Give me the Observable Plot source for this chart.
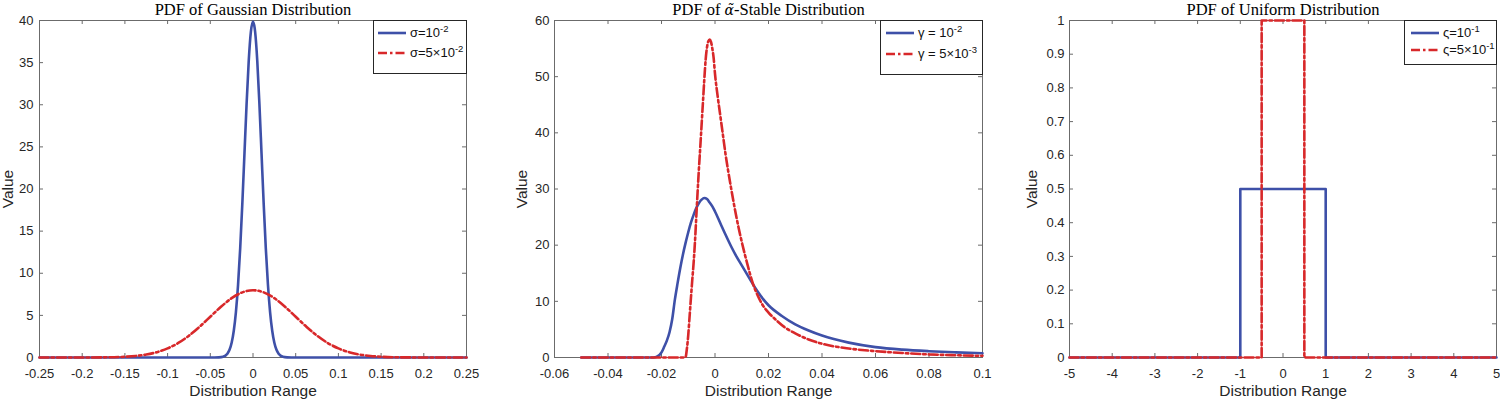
<!DOCTYPE html>
<html>
<head>
<meta charset="utf-8">
<script src="https://cdn.jsdelivr.net/npm/d3@7"></script>
<script src="https://cdn.jsdelivr.net/npm/@observablehq/plot@0.6"></script>
<style>
  body { margin: 0; background: #fff; }
  #fig { position: relative; width: 1500px; height: 401px; overflow: hidden; background: #fff;
         font-family: "Liberation Sans", Arial, Helvetica, sans-serif; }
  .panel { position: absolute; top: 0; }
  .legend { position: absolute; background: #fff; border: 1px solid #262626; box-sizing: border-box; }
  .row { position: absolute; left: 0; height: 16px; display: flex; align-items: center; white-space: nowrap; }
  .row svg { display: block; }
  .row span { font-size: 13px; color: #111; margin-left: 4px; line-height: 16px; }
  .row sup { font-size: 9.5px; vertical-align: 5px; line-height: 0; }
</style>
</head>
<body>
<div id="fig"></div>
<script>
// ---- Gaussian PDFs ----
const gaussNarrowX = [-0.25, -0.05, -0.045, -0.04, -0.035, -0.03, -0.0275, -0.025, -0.0225, -0.02, -0.0175, -0.015, -0.0125, -0.01, -0.0075, -0.005, -0.0025, 0,
  0.0025, 0.005, 0.0075, 0.01, 0.0125, 0.015, 0.0175, 0.02, 0.0225, 0.025, 0.0275, 0.03, 0.035, 0.04, 0.045, 0.05, 0.25];
const gaussNarrowY = [0, 0, 0.0016, 0.0134, 0.0873, 0.443, 0.910, 1.753, 3.18, 5.40, 8.63, 12.95, 18.26, 24.20, 30.11, 35.21, 38.66, 39.89,
  38.66, 35.21, 30.11, 24.20, 18.26, 12.95, 8.63, 5.40, 3.18, 1.753, 0.910, 0.443, 0.0873, 0.0134, 0.0016, 0, 0];
const gaussWideX = [-0.25, -0.225, -0.2, -0.175, -0.15, -0.1375, -0.125, -0.1125, -0.1, -0.0875, -0.075, -0.0625, -0.05, -0.0375, -0.025, -0.0125, 0,
  0.0125, 0.025, 0.0375, 0.05, 0.0625, 0.075, 0.0875, 0.1, 0.1125, 0.125, 0.1375, 0.15, 0.175, 0.2, 0.225, 0.25];
const gaussWideY = [0.00003, 0.0003, 0.00268, 0.01745, 0.0887, 0.182, 0.3506, 0.635, 1.080, 1.726, 2.591, 3.653, 4.839, 6.022, 7.041, 7.733, 7.979,
  7.733, 7.041, 6.022, 4.839, 3.653, 2.591, 1.726, 1.080, 0.635, 0.3506, 0.182, 0.0887, 0.01745, 0.00268, 0.0003, 0.00003];

// ---- alpha-stable PDFs ----
const stableWideX = [-0.05, -0.03, -0.024, -0.022, -0.02, -0.019, -0.018, -0.017, -0.016, -0.015, -0.014, -0.013, -0.012, -0.011, -0.01, -0.009, -0.008, -0.007, -0.006, -0.005, -0.004, -0.003, -0.002, -0.001,
  0, 0.002, 0.004, 0.006, 0.008, 0.01, 0.012, 0.014, 0.016, 0.018, 0.02, 0.025, 0.03, 0.035, 0.04, 0.05, 0.06, 0.07, 0.08, 0.09, 0.1];
const stableWideY = [0, 0, 0, 0.1, 0.9, 1.9, 3.0, 4.5, 6.8, 10.3, 13.2, 15.9, 18.3, 20.4, 22.3, 24.0, 25.4, 26.6, 27.5, 28.1, 28.4, 28.2, 27.6, 26.9,
  26.0, 23.9, 21.8, 19.8, 18.0, 16.4, 14.8, 13.2, 11.7, 10.4, 9.3, 7.4, 5.9, 4.8, 3.9, 2.65, 1.85, 1.4, 1.12, 0.92, 0.77];
const stableNarrowX = [-0.05, -0.03, -0.012, -0.011, -0.0105, -0.01, -0.0095, -0.009, -0.0085, -0.008, -0.0075, -0.007, -0.0065, -0.006, -0.0055, -0.005, -0.0045, -0.004, -0.0035, -0.003, -0.0025, -0.002, -0.0015, -0.001, -0.0005,
  0, 0.001, 0.002, 0.003, 0.004, 0.005, 0.006, 0.008, 0.01, 0.012, 0.014, 0.016, 0.018, 0.02, 0.023, 0.026, 0.03, 0.035, 0.04, 0.05, 0.06, 0.07, 0.08, 0.09, 0.1];
const stableNarrowY = [0, 0, 0, 0.1, 1.6, 4.0, 7.3, 10.6, 13.8, 16.8, 20.5, 25.0, 29.5, 33.7, 37.5, 41.5, 45.5, 49.5, 53.0, 55.2, 56.3, 56.6, 56.2, 55.0, 53.3,
  50.5, 46.5, 43.0, 39.5, 36.0, 33.0, 30.2, 25.0, 20.6, 16.8, 13.4, 11.0, 9.2, 8.0, 6.6, 5.4, 4.3, 3.2, 2.45, 1.6, 1.13, 0.8, 0.55, 0.4, 0.3];

// ---- uniform PDFs (step outlines) ----
const uniformWideX = [-5, -1, -1, 1, 1, 5];
const uniformWideY = [0, 0, 0.5, 0.5, 0, 0];
const uniformNarrowX = [-5, -0.5, -0.5, 0.5, 0.5, 5];
const uniformNarrowY = [0, 0, 1, 1, 0, 0];

// ---- axis ticks and labels ----
const gaussTicksX = [-0.25, -0.2, -0.15, -0.1, -0.05, 0, 0.05, 0.1, 0.15, 0.2, 0.25];
const gaussLabelsX = ["-0.25", "-0.2", "-0.15", "-0.1", "-0.05", "0", "0.05", "0.1", "0.15", "0.2", "0.25"];
const gaussTicksY = [0, 5, 10, 15, 20, 25, 30, 35, 40];
const gaussLabelsY = ["0", "5", "10", "15", "20", "25", "30", "35", "40"];
const stableTicksX = [-0.06, -0.04, -0.02, 0, 0.02, 0.04, 0.06, 0.08, 0.1];
const stableLabelsX = ["-0.06", "-0.04", "-0.02", "0", "0.02", "0.04", "0.06", "0.08", "0.1"];
const stableTicksY = [0, 10, 20, 30, 40, 50, 60];
const stableLabelsY = ["0", "10", "20", "30", "40", "50", "60"];
const uniformTicksX = [-5, -4, -3, -2, -1, 0, 1, 2, 3, 4, 5];
const uniformLabelsX = ["-5", "-4", "-3", "-2", "-1", "0", "1", "2", "3", "4", "5"];
const uniformTicksY = [0, 0.1, 0.2, 0.3, 0.4, 0.5, 0.6, 0.7, 0.8, 0.9, 1];
const uniformLabelsY = ["0", "0.1", "0.2", "0.3", "0.4", "0.5", "0.6", "0.7", "0.8", "0.9", "1"];

// ---- legend entries ----
const gaussLegend = ["σ=10<sup>-2</sup>", "σ=5×10<sup>-2</sup>"];
const stableLegend = ["γ = 10<sup>-2</sup>", "γ = 5×10<sup>-3</sup>"];
const uniformLegend = ["ς=10<sup>-1</sup>", "ς=5×10<sup>-1</sup>"];

const BLUE = "#3e50a8";
const RED = "#d8282a";
const DASHDOT = "9,3,2.5,3";
const AXIS = "#6b6b6b";
const INK = "#262626";
const SANS = "'Liberation Sans', Arial, Helvetica, sans-serif";
const SERIF = "'Liberation Serif', 'Times New Roman', serif";
const LW = 2.6;
const TICK_FONT = 13;

const zip = (xs, ys) => xs.map((x, i) => ({x, y: ys[i]}));

const W = 500, H = 401, MT = 20, MB = 44;

function drawPanel(cfg) {
  const fw = W - cfg.ml - cfg.mr, fh = H - MT - MB;
  const fmtX = d => cfg.xLabels[cfg.xTicks.indexOf(d)];
  const fmtY = d => cfg.yLabels[cfg.yTicks.indexOf(d)];
  const marks = [
    Plot.frame({stroke: AXIS, strokeWidth: 1}),
    // inward ticks on all four sides
    Plot.tickX(cfg.xTicks, {x: d => d, insetTop: fh - 4, stroke: AXIS}),
    Plot.tickX(cfg.xTicks, {x: d => d, insetBottom: fh - 4, stroke: AXIS}),
    Plot.tickY(cfg.yTicks, {y: d => d, insetRight: fw - 4, stroke: AXIS}),
    Plot.tickY(cfg.yTicks, {y: d => d, insetLeft: fw - 4, stroke: AXIS}),
    // tick labels
    Plot.text(cfg.xTicks, {x: d => d, text: fmtX, frameAnchor: "bottom", lineAnchor: "middle", textAnchor: "middle",
      dy: 16, fontSize: TICK_FONT, fill: INK}),
    Plot.text(cfg.yTicks, {y: d => d, text: fmtY, frameAnchor: "left", lineAnchor: "middle", textAnchor: "end",
      dx: -cfg.yPad, fontSize: TICK_FONT, fill: INK}),
    // title and axis labels
    Plot.text([cfg.title], {text: d => d, frameAnchor: "top", lineAnchor: "middle", textAnchor: "middle",
      dy: -10.3, fontFamily: SERIF, fontSize: 16.5, fill: "#000"}),
    Plot.text(["Distribution Range"], {text: d => d, frameAnchor: "bottom", lineAnchor: "middle", textAnchor: "middle",
      dy: 34, fontSize: 15.5, fill: INK}),
    Plot.text(["Value"], {text: d => d, frameAnchor: "left", lineAnchor: "middle", textAnchor: "middle",
      dx: cfg.labelDx, rotate: -90, fontSize: 15.5, fill: INK})
  ];
  // the curves go on top of the frame and ticks
  for (const s of cfg.series) {
    marks.push(Plot.line(s.data, {
      x: "x", y: "y", stroke: s.color, strokeWidth: LW, strokeDasharray: s.dash,
      curve: cfg.curve, strokeLinejoin: "round"
    }));
  }
  const svg = Plot.plot({
    width: W, height: H,
    marginTop: MT, marginBottom: MB, marginLeft: cfg.ml, marginRight: cfg.mr,
    x: {domain: cfg.xDomain, axis: null},
    y: {domain: cfg.yDomain, axis: null},
    style: {fontFamily: SANS, fontSize: "13px", color: INK, background: "transparent", overflow: "visible"},
    marks
  });
  // typeset the Greek symbol of a title with a font that places combining accents well
  if (cfg.titleSymbol) {
    d3.select(svg).selectAll("text").filter(function() { return this.textContent === cfg.title; })
      .each(function() {
        const t = d3.select(this);
        const [before, after] = cfg.title.split(cfg.titleSymbol);
        t.text(null);
        t.append("tspan").text(before);
        t.append("tspan").attr("font-family", "'DejaVu Serif', serif").attr("font-style", "italic")
          .attr("font-size", 14).text(cfg.titleSymbol);
        t.append("tspan").text(after);
      });
  }
  svg.classList.add("panel");
  svg.style.left = cfg.left + "px";
  return svg;
}

function drawLegend(cfg) {
  const box = document.createElement("div");
  box.className = "legend";
  Object.assign(box.style, {left: cfg.left + "px", top: cfg.top + "px", width: cfg.w + "px", height: cfg.h + "px"});
  cfg.entries.forEach((label, i) => {
    const row = document.createElement("div");
    row.className = "row";
    row.style.top = (cfg.rowY[i] - 8) + "px";
    row.style.left = cfg.lineX + "px";
    const dash = i === 1 ? `stroke-dasharray="${DASHDOT}"` : "";
    const color = i === 1 ? RED : BLUE;
    row.innerHTML = `<svg width="28" height="6"><line x1="0" x2="28" y1="3" y2="3" stroke="${color}" stroke-width="${LW}" ${dash}/></svg><span>${label}</span>`;
    box.appendChild(row);
  });
  return box;
}

const fig = document.getElementById("fig");

fig.appendChild(drawPanel({
  left: 0, ml: 39, mr: 34, yPad: 6, labelDx: -31, curve: "monotone-x",
  title: "PDF of Gaussian Distribution",
  xDomain: [-0.25, 0.25], yDomain: [0, 40],
  xTicks: gaussTicksX, xLabels: gaussLabelsX, yTicks: gaussTicksY, yLabels: gaussLabelsY,
  series: [
    {data: zip(gaussNarrowX, gaussNarrowY), color: BLUE},
    {data: zip(gaussWideX, gaussWideY), color: RED, dash: DASHDOT}
  ]
}));

fig.appendChild(drawPanel({
  left: 500, ml: 54, mr: 18, yPad: 5, labelDx: -32, curve: "monotone-x",
  title: "PDF of α̃-Stable Distribution", titleSymbol: "α̃",
  xDomain: [-0.06, 0.1], yDomain: [0, 60],
  xTicks: stableTicksX, xLabels: stableLabelsX, yTicks: stableTicksY, yLabels: stableLabelsY,
  series: [
    {data: zip(stableWideX, stableWideY), color: BLUE},
    {data: zip(stableNarrowX, stableNarrowY), color: RED, dash: DASHDOT}
  ]
}));

fig.appendChild(drawPanel({
  left: 1000, ml: 69, mr: 4, yPad: 5, labelDx: -37, curve: "linear",
  title: "PDF of Uniform Distribution",
  xDomain: [-5, 5], yDomain: [0, 1],
  xTicks: uniformTicksX, xLabels: uniformLabelsX, yTicks: uniformTicksY, yLabels: uniformLabelsY,
  series: [
    {data: zip(uniformWideX, uniformWideY), color: BLUE},
    {data: zip(uniformNarrowX, uniformNarrowY), color: RED, dash: DASHDOT}
  ]
}));

fig.appendChild(drawLegend({left: 373, top: 20, w: 94, h: 54, lineX: 4, rowY: [12, 32], entries: gaussLegend}));
fig.appendChild(drawLegend({left: 880, top: 20, w: 103, h: 55, lineX: 5, rowY: [12, 33], entries: stableLegend}));
fig.appendChild(drawLegend({left: 1404, top: 20, w: 93, h: 45, lineX: 6, rowY: [12, 29], entries: uniformLegend}));
</script>
</body>
</html>
